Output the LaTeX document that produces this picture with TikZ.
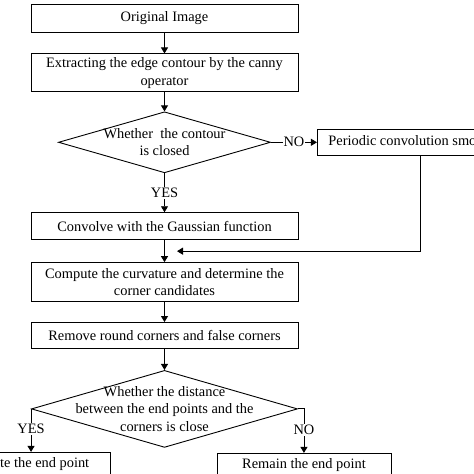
\documentclass[tikz,border=0pt]{standalone}
\usepackage{fontspec}
\setmainfont{Liberation Serif}
\usetikzlibrary{positioning,arrows.meta,calc,shapes.geometric}
\tikzset{
  box/.style  ={draw, line width=0.9pt, minimum width=267pt, align=center,
                font=\fontsize{14.4}{17.5}\selectfont, inner sep=2pt},
  cond/.style ={diamond, draw, line width=0.9pt, inner sep=0pt,
                label={[align=center, font=\fontsize{14.4}{17.5}\selectfont]center:#1}},
  fl/.style   ={-{Triangle[length=6pt,width=7pt]}, line width=0.9pt},
  ans/.style  ={font=\fontsize{14.4}{17}\selectfont, fill=white, inner sep=1pt}
}

\begin{document}
\begin{tikzpicture}[x=1pt, y=-1pt, node distance=20pt]
  \useasboundingbox (0,0) rectangle (474,474);
  \clip (0,0) rectangle (474,474);

  \node[box, minimum height=28pt] (orig) at (164.5,18) {Original Image};
  \node[box, minimum height=38pt, below=21pt of orig] (edge)
       {Extracting the edge contour by the canny\\operator};
  \node[cond={Whether\ \ the contour\\is closed}, minimum width=212pt,
        minimum height=61pt, below=19pt of edge] (closed) {};

  % smoothing branch (right)
  \node[box, minimum width=200pt, minimum height=26pt, anchor=west,
        inner xsep=11pt] (smooth) at ($(closed.east)+(46,0)$)
       {Periodic convolution smoothing};

  \node[box, minimum height=27pt, below=39pt of closed] (gauss)
       {Convolve with the Gaussian function};
  \node[box, minimum height=39pt, below=22pt of gauss] (curv)
       {Compute the curvature and determine the\\corner candidates};
  \node[box, minimum height=26pt, below=of curv] (remove)
       {Remove round corners and false corners};
  \node[cond={Whether the distance\\between the end points and the\\corners is close},
        minimum width=266pt, minimum height=77pt, below=21pt of remove] (dist) {};

  \node[box, minimum width=158pt, minimum height=24pt, below=43pt of dist.west] (del)
       {Delete the end point};
  \node[box, minimum width=174pt, minimum height=23pt, anchor=north] (keep)
       at ($(dist.east)+(6,44)$) {Remain the end point};

  \coordinate (merge) at ($($(gauss.south)!0.5!(curv.north)$)+(12.5,0)$);

  \draw[fl] (orig) -- (edge);
  \draw[fl] (edge) -- (closed);
  \draw[fl] (closed) -- (smooth) node[ans, midway] {NO};
  \draw[fl] (closed) -- (gauss) node[ans, midway] {YES};
  \draw[fl] ([xshift=103pt]smooth.south west) |- (merge);
  \draw[fl] (gauss) -- (curv);
  \draw[fl] (curv) -- (remove);
  \draw[fl] (remove) -- (dist);
  \draw[fl] (dist.west) -- (del.north) node[ans, pos=0.47] {YES};
  \draw[fl] (dist.east) -| (keep.north) node[ans, pos=0.74] {NO};
\end{tikzpicture}
\end{document}
